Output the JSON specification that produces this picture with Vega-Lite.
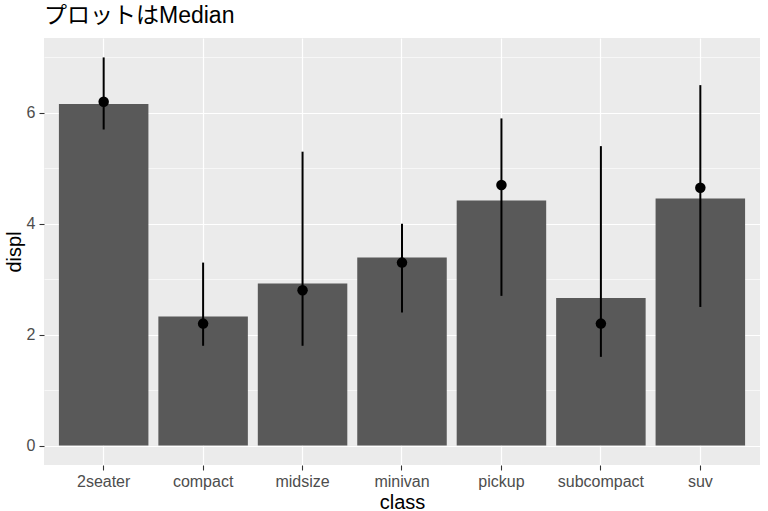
{
  "$schema": "https://vega.github.io/schema/vega-lite/v6.json",
  "width": 716,
  "height": 427,
  "autosize": {"type": "none"},
  "padding": {"left": 44, "top": 38, "right": 8, "bottom": 46},
  "background": "white",
  "title": {
    "text": "プロットはMedian",
    "anchor": "start",
    "frame": "group",
    "font": "Liberation Sans, Noto Sans CJK JP",
    "fontSize": 23,
    "fontWeight": "normal",
    "color": "black",
    "offset": 10
  },
  "config": {
    "view": {"fill": "#EBEBEB", "stroke": null},
    "axis": {
      "labelFont": "Liberation Sans",
      "titleFont": "Liberation Sans",
      "labelFontSize": 16,
      "titleFontSize": 20,
      "titleFontWeight": "normal",
      "labelColor": "#4D4D4D",
      "titleColor": "black",
      "tickColor": "#333333",
      "tickSize": 5,
      "tickWidth": 1.1,
      "domain": false,
      "gridColor": "white",
      "gridWidth": 1.2
    }
  },
  "data": {
    "values": [
      {"class": "2seater", "mean": 6.16, "median": 6.2, "min": 5.7, "max": 7.0},
      {"class": "compact", "mean": 2.326, "median": 2.2, "min": 1.8, "max": 3.3},
      {"class": "midsize", "mean": 2.921, "median": 2.8, "min": 1.8, "max": 5.3},
      {"class": "minivan", "mean": 3.391, "median": 3.3, "min": 2.4, "max": 4.0},
      {"class": "pickup", "mean": 4.418, "median": 4.7, "min": 2.7, "max": 5.9},
      {"class": "subcompact", "mean": 2.66, "median": 2.2, "min": 1.6, "max": 5.4},
      {"class": "suv", "mean": 4.456, "median": 4.65, "min": 2.5, "max": 6.5}
    ]
  },
  "encoding": {
    "x": {
      "field": "class",
      "type": "nominal",
      "title": "class",
      "scale": {"paddingInner": 0.1, "paddingOuter": 0.15},
      "axis": {"labelAngle": 0, "bandPosition": 0.5, "grid": true, "labelPadding": 3, "titlePadding": 3}
    }
  },
  "layer": [
    {
      "mark": {"type": "bar", "color": "#595959"},
      "encoding": {
        "y": {
          "field": "mean",
          "type": "quantitative",
          "title": "displ",
          "scale": {"domain": [-0.35, 7.35], "nice": false, "zero": false},
          "axis": {
            "values": [0, 1, 2, 3, 4, 5, 6, 7],
            "format": "d",
            "labelExpr": "datum.value % 2 == 0 ? datum.label : ''",
            "tickOpacity": {"condition": {"test": "datum.value % 2 == 0", "value": 1}, "value": 0},
            "gridWidth": {"condition": {"test": "datum.value % 2 == 0", "value": 1.2}, "value": 0.6},
            "labelPadding": 4,
            "titlePadding": 2
          }
        },
        "y2": {"datum": 0}
      }
    },
    {
      "mark": {"type": "rule", "color": "black", "strokeWidth": 2},
      "encoding": {
        "y": {"field": "min", "type": "quantitative"},
        "y2": {"field": "max"}
      }
    },
    {
      "mark": {"type": "point", "filled": true, "color": "black", "opacity": 1, "size": 110},
      "encoding": {
        "y": {"field": "median", "type": "quantitative"}
      }
    }
  ]
}
